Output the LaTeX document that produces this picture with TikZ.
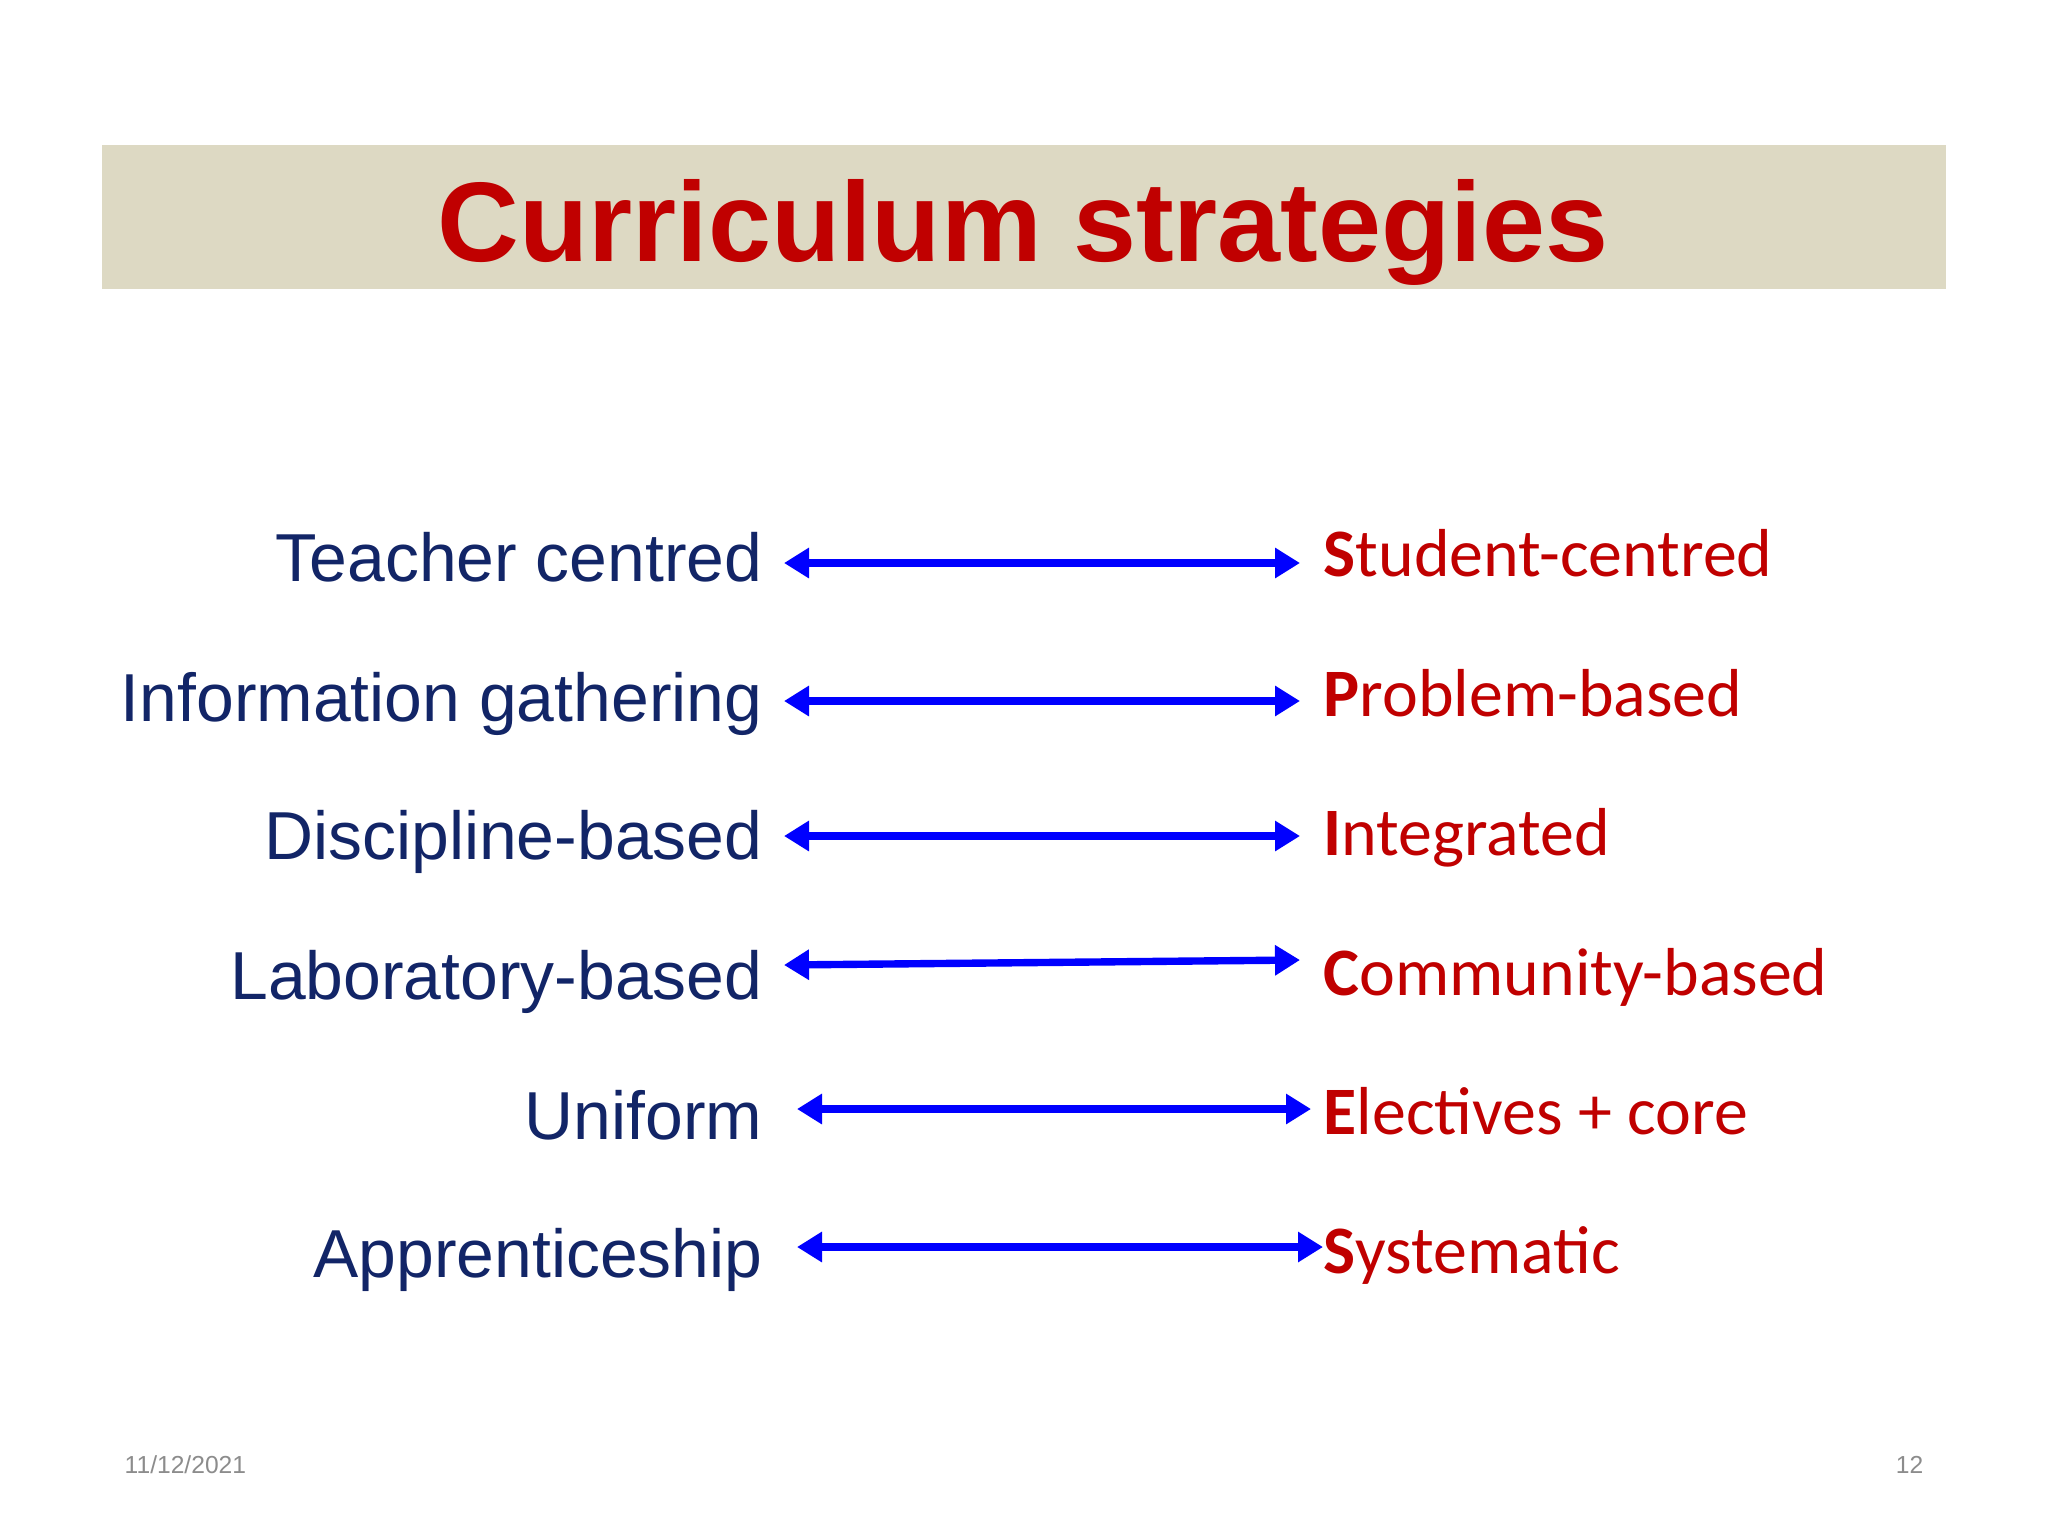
\documentclass[tikz,border=0pt]{standalone}
\usepackage{fontspec}
\setmainfont{Liberation Sans}
\newfontfamily\calibri{Carlito}
\usetikzlibrary{arrows.meta}
\definecolor{bannertan}{HTML}{DDD9C3}
\definecolor{titlered}{HTML}{C00000}
\definecolor{navytext}{HTML}{122567}
\definecolor{footgray}{HTML}{8C8C8C}
\tikzset{
  lefttext/.style={anchor=base east,inner sep=0,text=navytext,font=\fontsize{19.3}{23}\selectfont},
  righttext/.style={anchor=base west,inner sep=0,text=titlered,font=\calibri\fontsize{19.3}{23}\selectfont},
  twoway/.style={draw=blue,line width=2.1pt,{Triangle[length=2.5mm,width=2.9mm]}-{Triangle[length=2.5mm,width=2.9mm]}},
  foottext/.style={inner sep=0,text=footgray,font=\fontsize{7}{8}\selectfont}
}

\begin{document}
\begin{tikzpicture}[x=0.01cm,y=-0.01cm]
  \useasboundingbox[fill=white] (0,0) rectangle (2048,1536);
  % draw title banner
  \fill[bannertan] (102,145) rectangle (1946,289);
  \node[anchor=base,inner sep=0,text=titlered,font=\bfseries\fontsize{32.2}{40}\selectfont] (title) at (1023,261) {Curriculum strategies};
  % draw left labels
  \foreach \i/\y/\t in {1/581/{Teacher centred},2/721/{Information gathering},3/859/{Discipline-based},
                        4/999/{Laboratory-based},5/1139/{Uniform},6/1277/{Apprenticeship}} {
    \node[lefttext] (L\i) at (763,\y) {\t};
  }
  % draw right labels
  \foreach \i/\y/\f/\t in {1/576/S/{tudent-centred},2/716/P/{roblem-based},3/855/I/{ntegrated},
                           4/995/C/{ommunity-based},5/1134/E/{lectives + core},6/1273/S/{ystematic}} {
    \node[righttext] (R\i) at (1323,\y) {\textbf{\f}\t};
  }
  % draw double arrows
  \foreach \i/\xa/\ya/\xb/\yb in {1/784/563/1300/563,2/784/701/1300/701,3/784/836/1300/836,
                                  4/784/965/1300/960,5/797/1109/1311/1109,6/797/1247/1323/1247} {
    \coordinate (a\i) at (\xa,\ya);
    \coordinate (b\i) at (\xb,\yb);
    \draw[twoway] (a\i) -- (b\i);
  }
  % draw footer
  \node[foottext,anchor=base west] (date) at (124,1473) {11/12/2021};
  \node[foottext,anchor=base east] (page) at (1924,1473) {12};
\end{tikzpicture}
\end{document}
